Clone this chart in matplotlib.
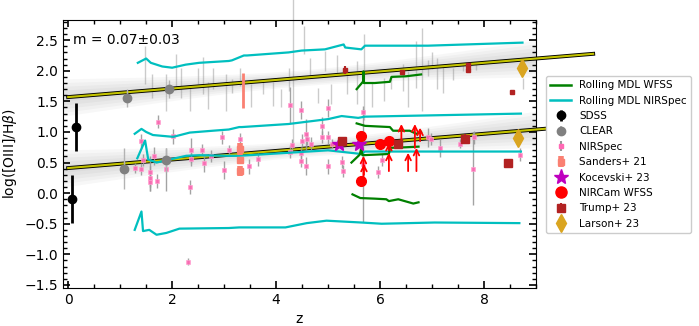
import numpy as np
import matplotlib
matplotlib.use("Agg")
import matplotlib.pyplot as plt
from matplotlib.lines import Line2D

# ---- data ----
fit_slope = 0.07
fit_slope_err = 0.03
fit_intercepts = [1.57, 0.41]

# grey error bars of the upper set (no markers)
up_z = [1.48, 1.62, 1.89, 2.08, 2.18, 2.35, 2.49, 2.59, 2.69, 2.78, 3.04, 3.16, 3.30, 3.52,
        3.74, 3.95, 4.10, 4.25, 4.54, 4.66, 4.80, 4.95, 5.05, 5.17, 5.36, 5.56, 5.70,
        5.85, 6.07, 6.22, 6.45, 6.54, 6.70, 6.80, 6.93, 7.00, 7.09, 7.22, 7.40, 7.60,
        7.85, 8.75]
up_y = [2.10, 1.75, 1.65, 2.00, 1.80, 1.55, 1.92, 1.92, 1.60, 1.88, 1.65, 1.75, 1.90, 1.59,
        1.73, 1.62, 1.55, 1.86, 2.50, 2.05, 1.60, 2.16, 1.62, 2.10, 1.81, 1.81, 1.90,
        1.60, 1.70, 1.80, 1.89, 1.70, 2.10, 2.02, 2.05, 2.17, 1.96, 1.87, 1.95, 2.05,
        2.06, 1.79]
up_err = [0.31, 0.20, 0.30, 0.28, 0.25, 0.20, 0.13, 0.30, 0.22, 0.17, 0.30, 0.12, 0.15, 0.19,
          0.11, 0.20, 0.15, 0.19, 0.23, 0.16, 0.12, 0.16, 0.16, 0.15, 0.19, 0.35, 0.70,
          0.20, 0.19, 0.10, 0.22, 0.30, 0.38, 0.68, 0.13, 0.14, 0.25, 0.23, 0.10, 0.05,
          0.05, 0.09]
# one very long bar that runs off the top of the figure
long_z, long_y, long_err = 4.33, 2.02, 1.33

# NIRSpec (pink)
nirspec_z = [1.28, 1.40, 1.41, 1.43, 1.57, 1.57, 1.57, 1.65, 1.70, 1.73, 1.88, 2.02, 2.30, 2.34,
             2.37, 2.37, 2.58, 2.61, 2.75, 2.96, 3.00, 3.10, 3.31, 3.47, 3.66, 4.27, 4.27,
             4.31, 4.48, 4.48, 4.48, 4.50, 4.57, 4.57, 4.60, 4.67, 4.88, 4.89, 4.99, 4.99,
             5.00, 5.07, 5.27, 5.29, 5.68, 5.68, 5.97, 6.03, 6.92, 6.98, 7.16, 7.53, 7.78,
             7.80, 8.69]
nirspec_y = [0.41, 0.85, 0.40, 0.54, 0.35, 0.24, 0.18, 0.61, 0.20, 1.17, 0.39, 0.93, -1.12, 0.10,
             0.70, 0.55, 0.70, 0.49, 0.61, 0.91, 0.38, 0.70, 0.89, 0.44, 0.55, 1.44, 0.68,
             0.78, 1.36, 0.66, 0.52, 0.86, 0.96, 0.44, 0.88, 0.81, 0.92, 1.10, 1.39, 0.91,
             0.44, 0.81, 0.51, 0.36, 1.32, 0.48, 0.34, 0.54, 0.91, 0.88, 0.74, 0.81, 0.40,
             0.91, 0.63]
nirspec_err = [0.08, 0.12, 0.10, 0.10, 0.25, 0.20, 0.15, 0.15, 0.12, 0.10, 0.35, 0.12, 0.06, 0.12,
               0.20, 0.10, 0.10, 0.15, 0.10, 0.10, 0.15, 0.08, 0.10, 0.12, 0.10, 0.30, 0.10,
               0.10, 0.15, 0.10, 0.10, 0.10, 0.25, 0.15, 0.10, 0.10, 0.10, 0.15, 0.15, 0.10,
               0.12, 0.08, 0.10, 0.10, 0.05, 0.95, 0.10, 0.10, 0.15, 0.10, 0.15, 0.08, 0.60,
               0.10, 0.10]

sdss_z = [0.15, 0.07]
sdss_y = [1.08, -0.09]
sdss_err = [0.39, 0.39]

clear_z = [1.13, 1.94, 1.07, 1.88]
clear_y = [1.56, 1.70, 0.40, 0.54]
clear_err = [0.15, 0.15, 0.34, 0.20]

sanders_up_z, sanders_up_y, sanders_up_err = [3.37], [1.68], [0.29]
sanders_z = [3.30, 3.30, 3.30]
sanders_y = [0.72, 0.54, 0.36]
sanders_err = [0.10, 0.05, 0.08]

kocevski_z = [5.21, 5.59]
kocevski_y = [0.80, 0.80]

nircam_z = [5.63, 5.99, 6.17, 5.63]
nircam_y = [0.93, 0.80, 0.85, 0.20]

# lower limits (red arrows): base and length
arrow_z = [5.68, 5.69, 6.17, 6.17, 6.41, 6.54, 6.67, 6.70, 6.77]
arrow_y = [0.25, 0.30, 0.36, 0.70, 0.74, 0.36, 0.74, 0.36, 0.85]
arrow_len = [0.36, 0.18, 0.30, 0.12, 0.39, 0.30, 0.39, 0.38, 0.22]

trump_z = [5.26, 6.35, 7.64, 8.47]
trump_y = [0.85, 0.81, 0.88, 0.50]
trump_err = [0.03, 0.03, 0.08, 0.03]
trump_up_z = [5.33, 6.43, 7.70, 7.70, 8.53]
trump_up_y = [2.01, 1.98, 2.09, 2.01, 1.66]
trump_up_err = [0.06, 0.01, 0.01, 0.01, 0.01]

larson_z = [8.73, 8.66]
larson_y = [2.04, 0.90]

# rolling MDL curves
wfss_z = [
    [5.55, 5.68, 5.68, 5.69, 5.90, 6.19, 6.22, 6.50, 6.79],
    [5.55, 5.71, 6.19, 6.25, 6.57, 6.70, 6.79],
    [5.45, 5.61, 5.64, 5.66, 6.17, 6.19, 6.50, 6.74],
    [5.47, 5.62, 5.90, 6.12, 6.17, 6.35, 6.64, 6.74],
]
wfss_y = [
    [1.70, 1.83, 1.99, 1.80, 1.80, 1.82, 1.90, 1.91, 1.94],
    [1.14, 1.10, 1.08, 1.02, 1.02, 0.97, 1.00],
    [0.50, 0.63, 0.74, 0.62, 0.64, 0.74, 0.75, 0.76],
    [-0.02, -0.08, -0.09, -0.10, -0.13, -0.10, -0.17, -0.15],
]
nrs_z = [
    [1.34, 1.50, 1.59, 1.81, 2.00, 2.26, 2.52, 3.09, 3.15, 3.38, 3.44, 4.24, 4.49, 4.94,
     5.30, 5.33, 5.64, 5.71, 6.92, 8.74],
    [1.28, 1.41, 1.50, 1.63, 2.02, 2.34, 2.78, 3.09, 3.29, 3.34, 4.24, 5.00, 5.26, 5.58,
     5.71, 8.71],
    [1.33, 1.48, 1.54, 1.70, 1.95, 2.27, 2.52, 3.09, 3.28, 4.24, 5.00, 5.64, 5.71, 8.71],
    [1.28, 1.41, 1.44, 1.56, 1.70, 1.89, 2.14, 3.09, 3.29, 4.18, 4.59, 4.97, 5.64, 6.03,
     7.05, 8.68],
]
nrs_y = [
    [2.13, 2.20, 2.13, 2.07, 2.05, 2.10, 2.13, 2.16, 2.17, 2.25, 2.25, 2.30, 2.33, 2.35,
     2.43, 2.38, 2.35, 2.41, 2.41, 2.46],
    [0.97, 1.05, 1.00, 0.95, 0.92, 0.99, 1.02, 1.04, 1.08, 1.08, 1.13, 1.21, 1.26, 1.23,
     1.25, 1.30],
    [0.57, 0.86, 0.55, 0.50, 0.55, 0.61, 0.62, 0.61, 0.61, 0.66, 0.70, 0.64, 0.68, 0.68],
    [-0.60, -0.30, -0.62, -0.60, -0.68, -0.65, -0.58, -0.57, -0.56, -0.56, -0.49, -0.45,
     -0.48, -0.50, -0.48, -0.49],
]

# ---- plot ----
fig = plt.figure(figsize=(6.99, 3.26), dpi=100)
ax = fig.add_axes([0.0901, 0.1166, 0.6767, 0.8221])

# shaded uncertainty of the fits
zz = np.linspace(-0.1, 9.0, 200)
for b in fit_intercepts:
    mid = b + fit_slope * zz
    for k in [0.4, 0.8, 1.2, 1.6, 2.0]:
        w = 0.13 * k * np.sqrt(0.25 + ((zz - 4.5) * fit_slope_err / 0.13) ** 2)
        ax.fill_between(zz, mid - w, mid + w, color='0.5', alpha=0.06, lw=0, zorder=1)

# grey error bars
ax.errorbar(up_z, up_y, yerr=up_err, fmt='none', ecolor='0.6', elinewidth=1, alpha=0.5, zorder=2)
eb = ax.errorbar([long_z], [long_y], yerr=[long_err], fmt='none', ecolor='0.6',
                 elinewidth=1, alpha=0.5, zorder=2)
for c in eb[2]:
    c.set_clip_on(False)

# fit lines (drawn past the right edge)
zf = np.array([0.0, 10.1])
for b in fit_intercepts:
    ax.plot(zf, b + fit_slope * zf, color='k', lw=2.8, zorder=3, clip_on=False)
    ax.plot(zf, b + fit_slope * zf, color='#c4c400', lw=1.5, zorder=3, clip_on=False)

# rolling MDL lines
for i in range(4):
    ax.plot(nrs_z[i], nrs_y[i], color='c', lw=1.6, zorder=4)
for i in range(4):
    ax.plot(wfss_z[i], wfss_y[i], color='g', lw=1.6, zorder=4)

ax.errorbar(nirspec_z, nirspec_y, yerr=nirspec_err, fmt='s', ms=2.2, color='hotpink',
            mec='#ff9fd0', mew=0.5, ecolor='0.6', elinewidth=1, alpha=0.9, zorder=3)
ax.errorbar(sdss_z, sdss_y, yerr=sdss_err, fmt='o', ms=6, color='k', elinewidth=2, zorder=5)
ax.errorbar(clear_z, clear_y, yerr=clear_err, fmt='o', ms=6, color='grey', ecolor='0.7',
            elinewidth=1, zorder=5)
ax.errorbar(sanders_up_z, sanders_up_y, yerr=sanders_up_err, fmt='none', ecolor='salmon',
            elinewidth=2, zorder=5)
ax.errorbar(sanders_z, sanders_y, yerr=sanders_err, fmt='s', ms=5, color='salmon',
            elinewidth=4, zorder=5)
ax.plot(kocevski_z, kocevski_y, '*', ms=10, color='m', zorder=6)
ax.plot(nircam_z, nircam_y, 'o', ms=7, color='red', zorder=6)
for z0, y0, l in zip(arrow_z, arrow_y, arrow_len):
    ax.annotate('', xy=(z0, y0 + l), xytext=(z0, y0), zorder=6,
                arrowprops=dict(arrowstyle='->', color='red', lw=1.3, mutation_scale=10,
                                shrinkA=0, shrinkB=0))
ax.errorbar(trump_z, trump_y, yerr=trump_err, fmt='s', ms=5.5, color='firebrick', zorder=6)
ax.errorbar(trump_up_z, trump_up_y, yerr=trump_up_err, fmt='s', ms=2.5, color='firebrick',
            zorder=6)
ax.plot(larson_z, larson_y, 'd', ms=9, color='goldenrod', zorder=6)

ax.text(0.021, 0.925, 'm = 0.07±0.03', transform=ax.transAxes, fontsize=10, va='center')

ax.set_xlim(-0.1, 9.0)
ax.set_ylim(-1.55, 2.83)
ax.set_xticks([0, 2, 4, 6, 8])
ax.set_yticks(np.arange(-1.5, 2.51, 0.5))
ax.set_xticks(np.arange(0, 9.01, 0.5), minor=True)
ax.set_yticks(np.arange(-1.5, 2.81, 0.1), minor=True)
ax.tick_params(which='both', direction='in', top=True, right=True, labelsize=10)
ax.tick_params(which='major', length=5, width=1.2)
ax.tick_params(which='minor', length=3, width=1)
ax.set_xlabel('z', fontsize=10)
ax.set_ylabel(r'log([OIII]/H$\beta$)', fontsize=10)

# legend
handles = [
    Line2D([], [], color='g', lw=1.8),
    Line2D([], [], color='c', lw=1.8),
    ax.errorbar([], [], yerr=[], fmt='o', ms=6, color='k', elinewidth=2),
    ax.errorbar([], [], yerr=[], fmt='o', ms=6, color='grey', ecolor='0.7'),
    ax.errorbar([], [], yerr=[], fmt='s', ms=2.2, color='hotpink', ecolor='0.6'),
    ax.errorbar([], [], yerr=[], fmt='s', ms=5, color='salmon', elinewidth=4),
    Line2D([], [], ls='none', marker='*', ms=11, color='m'),
    Line2D([], [], ls='none', marker='o', ms=8, color='red'),
    ax.errorbar([], [], yerr=[], fmt='s', ms=6, color='firebrick'),
    Line2D([], [], ls='none', marker='d', ms=9, color='goldenrod'),
]
labels = ['Rolling MDL WFSS', 'Rolling MDL NIRSpec', 'SDSS', 'CLEAR', 'NIRSpec',
          'Sanders+ 21', 'Kocevski+ 23', 'NIRCam WFSS', 'Trump+ 23', 'Larson+ 23']
leg = ax.legend(handles, labels, loc='upper left', bbox_to_anchor=(1.021, 0.791),
                borderaxespad=0, fontsize=7.5, labelspacing=0.52, framealpha=1)
leg.set_zorder(20)

fig.savefig('out.png', dpi=100)
